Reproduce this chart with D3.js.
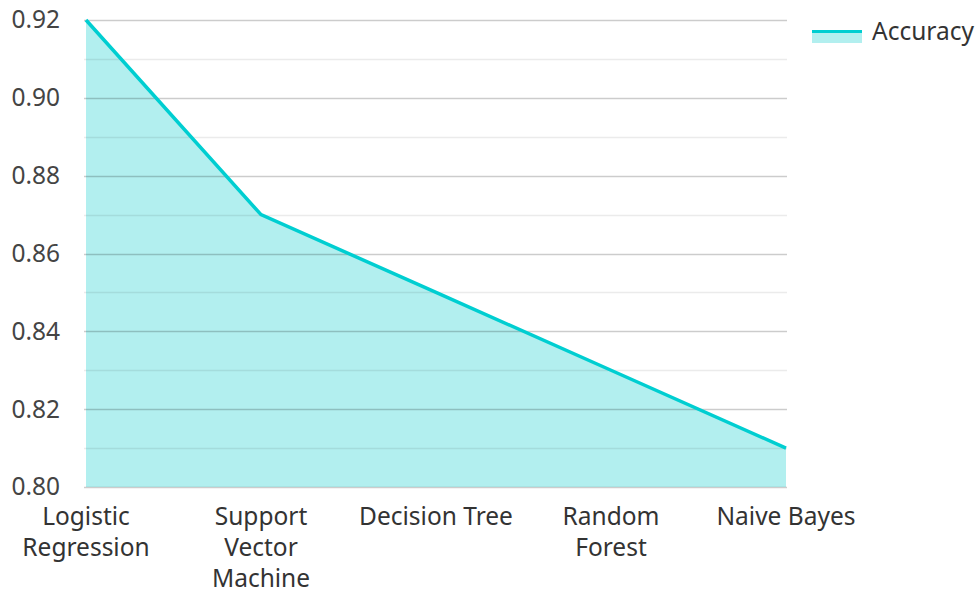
<!DOCTYPE html>
<html>
<head>
<meta charset="utf-8">
<script src="https://cdn.jsdelivr.net/npm/d3@7"></script>
<style>
  html, body { margin: 0; padding: 0; background: #fff; }
  svg text { font-family: "Noto Sans", "Open Sans", sans-serif; }
</style>
</head>
<body>
<svg id="chart" width="977" height="590"></svg>
<script>
// Model accuracy comparison
const categories = ["Logistic Regression", "Support Vector Machine", "Decision Tree", "Random Forest", "Naive Bayes"];
const categoryLines = [["Logistic", "Regression"], ["Support", "Vector", "Machine"], ["Decision Tree"], ["Random", "Forest"], ["Naive Bayes"]];
const accuracy = [0.92, 0.87, 0.85, 0.83, 0.81];
const yTicks = [0.80, 0.82, 0.84, 0.86, 0.88, 0.90, 0.92];
const yMinorTicks = [0.81, 0.83, 0.85, 0.87, 0.89, 0.91];
const seriesName = "Accuracy";

const lineColor = "#00CED1";
const fillColor = "#B2EFEF";
const fontSize = 24.5;

const svg = d3.select("#chart");
const plot = { left: 86, right: 786, top: 20, bottom: 487 };

const x = d3.scalePoint().domain(categories).range([plot.left, plot.right]);
const y = d3.scaleLinear().domain([0.80, 0.92]).range([plot.bottom, plot.top]);

// Area fill under the line
const area = d3.area()
  .x((d, i) => x(categories[i]))
  .y0(y(0.80))
  .y1(d => y(d));
svg.append("path")
  .datum(accuracy)
  .attr("d", area)
  .attr("fill", fillColor);

// Grid lines (drawn over the fill, semi-transparent)
const grid = svg.append("g");
grid.selectAll("line.minor")
  .data(yMinorTicks)
  .join("line")
  .attr("class", "minor")
  .attr("x1", plot.left - 2).attr("x2", plot.right + 1)
  .attr("y1", d => Math.round(y(d)) + 0.5).attr("y2", d => Math.round(y(d)) + 0.5)
  .attr("stroke", "rgba(0,0,0,0.08)")
  .attr("stroke-width", 1.5);
grid.selectAll("line.major")
  .data(yTicks)
  .join("line")
  .attr("class", "major")
  .attr("x1", plot.left - 2).attr("x2", plot.right + 1)
  .attr("y1", d => Math.round(y(d)) + 0.5).attr("y2", d => Math.round(y(d)) + 0.5)
  .attr("stroke", "rgba(0,0,0,0.2)")
  .attr("stroke-width", 1.5);

// Line
const line = d3.line()
  .x((d, i) => x(categories[i]))
  .y(d => y(d));
svg.append("path")
  .datum(accuracy)
  .attr("d", line)
  .attr("fill", "none")
  .attr("stroke", lineColor)
  .attr("stroke-width", 3.5);

// Y axis labels
const yAxis = d3.axisLeft(y).tickValues(yTicks).tickFormat(d3.format(".2f")).tickSize(0).tickPadding(0);
const yg = svg.append("g").attr("transform", `translate(${plot.left - 26},0)`).call(yAxis);
yg.select(".domain").remove();
yg.selectAll("text")
  .attr("font-size", fontSize)
  .attr("fill", "#444")
  .attr("font-family", "'Noto Sans', 'Open Sans', sans-serif");

// X axis labels (multi-line)
const xg = svg.append("g");
categories.forEach((c, i) => {
  const t = xg.append("text")
    .attr("x", x(c))
    .attr("y", 525)
    .attr("text-anchor", "middle")
    .attr("font-size", fontSize)
    .attr("fill", "#333");
  categoryLines[i].forEach((ln, j) => {
    t.append("tspan").attr("x", x(c)).attr("dy", j === 0 ? 0 : 31).text(ln);
  });
});

// Legend
const lg = svg.append("g").attr("transform", "translate(812,30)");
lg.append("rect").attr("x", 0).attr("y", 0).attr("width", 50).attr("height", 13).attr("fill", fillColor);
lg.append("line").attr("x1", 0).attr("x2", 50).attr("y1", 1.5).attr("y2", 1.5)
  .attr("stroke", lineColor).attr("stroke-width", 3);
lg.append("text").attr("x", 60).attr("y", 1).attr("dy", "0.35em")
  .attr("font-size", fontSize).attr("fill", "#333").text(seriesName);
</script>
</body>
</html>
